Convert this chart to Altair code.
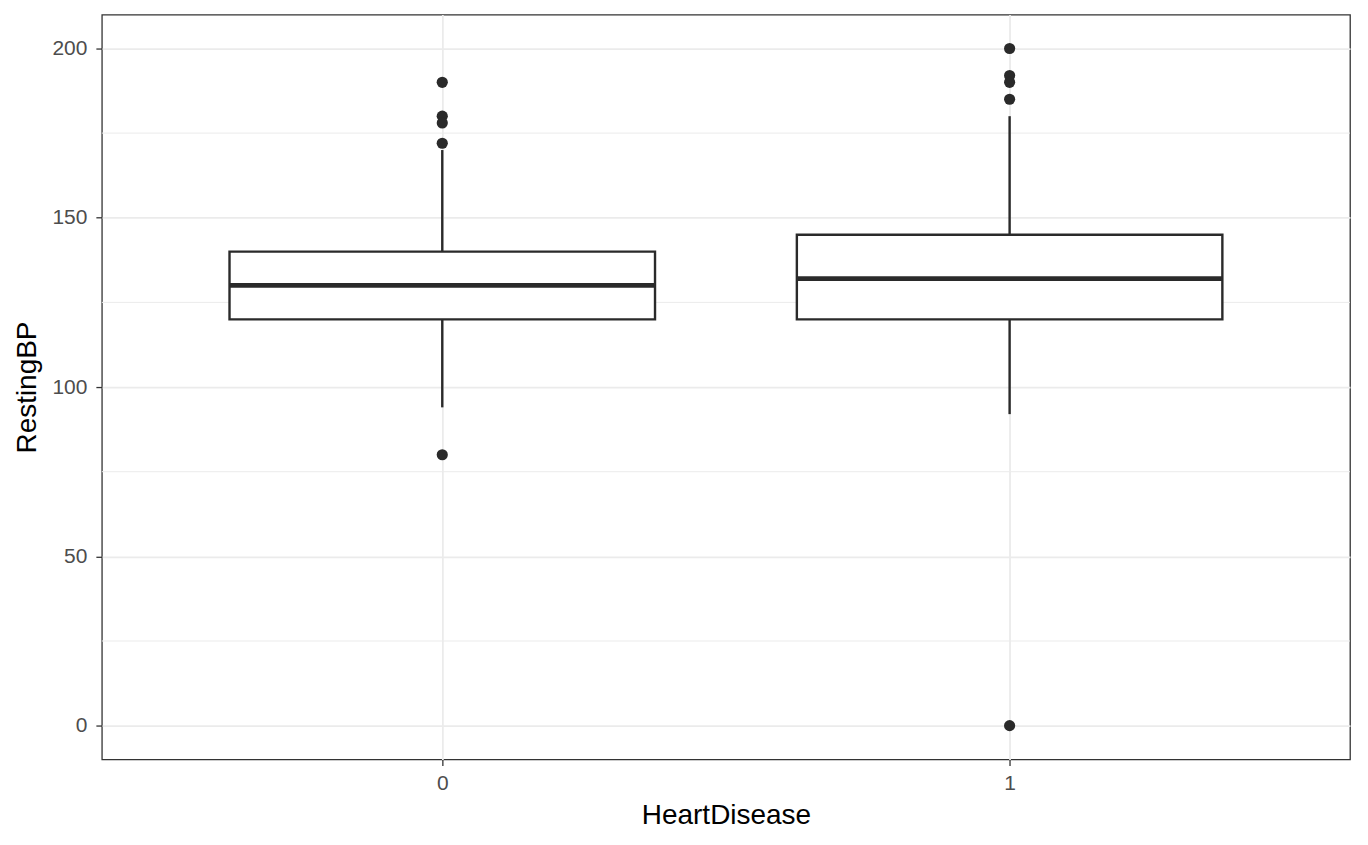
import altair as alt
import pandas as pd

# ---- data ----
groups = ["0", "1"]
lower_whisker = [94, 92]
q1 = [120, 120]
median = [130, 132]
q3 = [140, 145]
upper_whisker = [170, 180]
outliers = {
    "0": [190, 180, 178, 172, 80],
    "1": [200, 192, 190, 185, 0],
}
major_ticks = [0, 50, 100, 150, 200]
minor_ticks = [25, 75, 125, 175]

positions = list(range(1, len(groups) + 1))
box_df = pd.DataFrame({
    "HeartDisease": groups,
    "pos": positions,
    "lo": lower_whisker,
    "q1": q1,
    "med": median,
    "q3": q3,
    "hi": upper_whisker,
})
out_rows = []
for g, p in zip(groups, positions):
    for v in outliers[g]:
        out_rows.append({"HeartDisease": g, "pos": p, "RestingBP": v})
out_df = pd.DataFrame(out_rows)
minor_df = pd.DataFrame({"v": minor_ticks})

dark = "#2a2a2a"
half = 0.375
W, H = 1250, 746

label_expr = " : ".join(
    [f"datum.value == {p} ? '{g}'" for g, p in zip(groups, positions)] + ["''"]
)

xscale = alt.Scale(domain=[0.4, len(groups) + 0.6], nice=False, zero=False)
yscale = alt.Scale(domain=[-10, 210], nice=False, zero=False)

common = dict(
    grid=True, gridColor="#ebebeb", gridWidth=1.8,
    tickColor="#333333", tickSize=6, tickWidth=1.3, domain=False,
    labelColor="#4d4d4d", labelFontSize=21,
    titleFontSize=28, titleFontWeight="normal", titleColor="black",
    labelFont="Liberation Sans", titleFont="Liberation Sans",
)
x_axis = alt.Axis(values=positions, labelExpr=label_expr, title="HeartDisease",
                  labelPadding=7, titlePadding=8, **common)
y_axis = alt.Axis(values=major_ticks, title="RestingBP",
                  labelPadding=9, titlePadding=10, **common)

minor = alt.Chart(minor_df).mark_rule(color="#ebebeb", strokeWidth=1).encode(
    y=alt.Y("v:Q", scale=yscale, axis=y_axis),
    x=alt.value(0), x2=alt.value(W),
)

base = alt.Chart(box_df)

whisk_lo = base.mark_rule(color=dark, strokeWidth=2.4).encode(
    x=alt.X("pos:Q", scale=xscale, axis=x_axis),
    y=alt.Y("lo:Q", scale=yscale, axis=y_axis),
    y2="q1:Q",
)
whisk_hi = base.mark_rule(color=dark, strokeWidth=2.4).encode(
    x=alt.X("pos:Q", scale=xscale, axis=x_axis),
    y=alt.Y("q3:Q", scale=yscale, axis=y_axis),
    y2="hi:Q",
)
box = base.transform_calculate(
    x0=f"datum.pos - {half}", x1=f"datum.pos + {half}"
).mark_rect(fill="white", stroke=dark, strokeWidth=2.4).encode(
    x=alt.X("x0:Q", scale=xscale, axis=x_axis),
    x2="x1:Q",
    y=alt.Y("q1:Q", scale=yscale, axis=y_axis),
    y2="q3:Q",
)
med = base.transform_calculate(
    x0=f"datum.pos - {half}", x1=f"datum.pos + {half}"
).mark_rule(color=dark, strokeWidth=4.8).encode(
    x=alt.X("x0:Q", scale=xscale, axis=x_axis),
    x2="x1:Q",
    y=alt.Y("med:Q", scale=yscale, axis=y_axis),
)
pts = alt.Chart(out_df).mark_circle(color=dark, opacity=1, size=125).encode(
    x=alt.X("pos:Q", scale=xscale, axis=x_axis),
    y=alt.Y("RestingBP:Q", scale=yscale, axis=y_axis),
)

chart = alt.layer(minor, whisk_lo, whisk_hi, box, med, pts).properties(
    width=W, height=H,
    autosize=alt.AutoSizeParams(type="none"),
    padding={"left": 94, "top": 6, "right": 10, "bottom": 70},
    background="white",
).configure_view(stroke="#333333", strokeWidth=1.3)

chart.save("out.html", embed_options={"renderer": "svg", "actions": False})
